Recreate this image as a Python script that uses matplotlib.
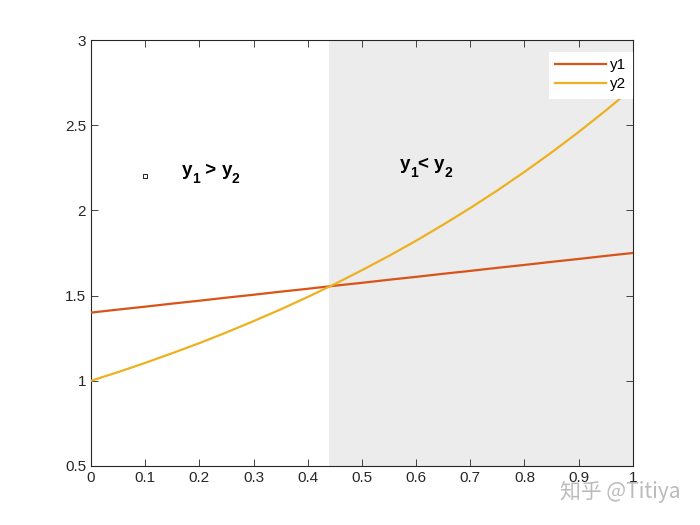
import matplotlib
matplotlib.use("Agg")
import matplotlib.pyplot as plt
from matplotlib.transforms import offset_copy

x = [0.0, 0.05, 0.1, 0.15, 0.2, 0.25, 0.3, 0.35, 0.4, 0.45, 0.5,
     0.55, 0.6, 0.65, 0.7, 0.75, 0.8, 0.85, 0.9, 0.95, 1.0]
y1 = [1.400, 1.418, 1.435, 1.453, 1.470, 1.488, 1.505, 1.523, 1.540, 1.558, 1.575,
      1.593, 1.610, 1.628, 1.645, 1.663, 1.680, 1.698, 1.715, 1.733, 1.750]
y2 = [1.000, 1.051, 1.105, 1.162, 1.221, 1.284, 1.350, 1.419, 1.492, 1.568, 1.649,
      1.733, 1.822, 1.916, 2.014, 2.117, 2.226, 2.340, 2.460, 2.586, 2.718]
x_cross = 0.44
xticks = [0, 0.1, 0.2, 0.3, 0.4, 0.5, 0.6, 0.7, 0.8, 0.9, 1]
xticklabels = ["0", "0.1", "0.2", "0.3", "0.4", "0.5", "0.6", "0.7", "0.8", "0.9", "1"]
yticks = [0.5, 1, 1.5, 2, 2.5, 3]
yticklabels = ["0.5", "1", "1.5", "2", "2.5", "3"]

plt.rcParams['font.family'] = ['Liberation Sans', 'Noto Sans CJK SC', 'DejaVu Sans']

fig = plt.figure(figsize=(7, 5.25), dpi=100)
ax = fig.add_axes([0.13, 0.1124, 0.774, 0.8114])

ax.axvspan(x_cross, 1, color='#ececec', lw=0, zorder=0)
ax.plot(x, y1, color='#D95319', lw=1.6, label='y1', zorder=3)
ax.plot(x, y2, color='#EDB120', lw=1.6, label='y2', zorder=3)

ax.plot([0.1], [2.2], marker='s', markersize=2.5, markerfacecolor='white',
        markeredgecolor='black', markeredgewidth=0.6, linestyle='none')

ax.set_xlim(0, 1)
ax.set_ylim(0.5, 3)
ax.set_xticks(xticks)
ax.set_xticklabels(xticklabels)
ax.set_yticks(yticks)
ax.set_yticklabels(yticklabels)
ax.tick_params(direction='in', top=True, right=True, labelsize=11, length=5, width=0.6,
               colors='#262626')
for sp in ax.spines.values():
    sp.set_linewidth(0.8)
    sp.set_color('#262626')

renderer = fig.canvas.get_renderer()


def rich_label(x0, y0, pieces):
    """pieces: list of (text, is_subscript)"""
    dx = 0.0
    for s, sub in pieces:
        size = 10 if sub else 13.5
        dy = -5.5 if sub else 0.0
        tr = offset_copy(ax.transData, fig=fig, x=dx, y=dy, units='points')
        t = ax.text(x0, y0, s, fontsize=size, fontweight='bold', ha='left',
                    va='baseline', transform=tr, zorder=5)
        w = t.get_window_extent(renderer=renderer).width * 72.0 / fig.dpi
        dx += w


rich_label(0.168, 2.205, [("y", False), ("1", True), (" > ", False), ("y", False), ("2", True)])
rich_label(0.570, 2.243, [("y", False), ("1", True), ("< ", False), ("y", False), ("2", True)])

leg = ax.legend(loc='upper right', bbox_to_anchor=(0.998, 0.972), fontsize=11,
                frameon=True, fancybox=False, borderaxespad=0, handlelength=3.3,
                handletextpad=0.25, labelspacing=0.35, borderpad=0.4)
leg.get_frame().set_edgecolor('white')
leg.get_frame().set_linewidth(0.8)
leg.get_frame().set_alpha(1)

fig.text(0.80, 0.063, '知乎 @Titiya', fontsize=15, color='#b0b0b0', alpha=0.85,
         family=['Noto Sans CJK SC', 'DejaVu Sans'], ha='left', va='center', zorder=10)

fig.savefig('out.png', dpi=100)
